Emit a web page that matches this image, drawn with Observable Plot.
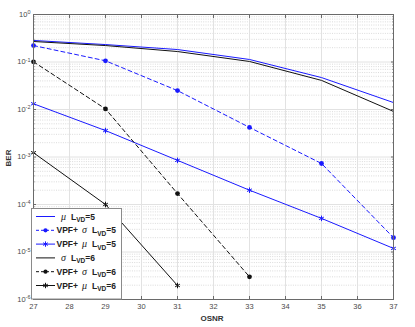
<!DOCTYPE html>
<html><head><meta charset="utf-8">
<script src="https://cdn.jsdelivr.net/npm/d3@7"></script>
<script src="https://cdn.jsdelivr.net/npm/@observablehq/plot@0.6"></script>
<style>
body{margin:0;background:#fff;}
#chart svg{font-family:"Liberation Sans",Arial,sans-serif;}
</style>
</head><body><div id="chart"></div>
<script>
// ---- data ----
const osnr = [27, 29, 31, 33, 35, 37];
const osnrSigmaL6 = [27, 29, 31, 33];
const osnrMuL6 = [27, 29, 31];
const muL5 = [0.284, 0.233, 0.183, 0.113, 0.047, 0.014];
const vpfSigmaL5 = [0.222, 0.106, 0.025, 0.0042, 7.3e-4, 2.0e-5];
const vpfMuL5 = [0.0132, 0.0036, 8.5e-4, 2.0e-4, 5.1e-5, 1.19e-5];
const sigmaL6 = [0.27, 0.222, 0.166, 0.1026, 0.041, 0.0091];
const vpfSigmaL6 = [0.101, 0.0103, 1.7e-4, 3.0e-6];
const vpfMuL6 = [1.23e-3, 1.0e-4, 1.97e-6];
const xTicks = [27, 28, 29, 30, 31, 32, 33, 34, 35, 36, 37];
const yTicks = [1e-6, 1e-5, 1e-4, 1e-3, 1e-2, 1e-1, 1];
const yTickExp = ["-6", "-5", "-4", "-3", "-2", "-1", "0"];

const BLUE = "#1a1aff", BLACK = "#111";

const rows = (name, xs, ys) => xs.map((x, i) => ({series: name, osnr: x, ber: ys[i]}));
const dMuL5 = rows("muL5", osnr, muL5);
const dVpfSigmaL5 = rows("vpfSigmaL5", osnr, vpfSigmaL5);
const dVpfMuL5 = rows("vpfMuL5", osnr, vpfMuL5);
const dSigmaL6 = rows("sigmaL6", osnr, sigmaL6);
const dVpfSigmaL6 = rows("vpfSigmaL6", osnrSigmaL6, vpfSigmaL6);
const dVpfMuL6 = rows("vpfMuL6", osnrMuL6, vpfMuL6);

const minorY = d3.scaleLog().domain([1e-6, 1]).ticks().filter(v => !yTicks.some(t => Math.abs(t - v) / v < 1e-9));
const expOf = d => yTickExp[yTicks.findIndex(t => Math.abs(t - d) / t < 1e-9)];

const AX = "#6a6a6a", LBL = "#4a4a4a";

const chart = Plot.plot({
  width: 415, height: 327,
  marginLeft: 33, marginRight: 22, marginTop: 14, marginBottom: 28,
  style: {fontSize: "7.5px", color: LBL, background: "#fff"},
  x: {domain: [27, 37], ticks: xTicks},
  y: {type: "log", domain: [1e-6, 1], ticks: yTicks},
  marks: [
    Plot.ruleY(minorY, {stroke: "#d2d2d2", strokeDasharray: "1,1.3", strokeWidth: 0.8}),
    Plot.gridX(xTicks, {stroke: "#e2e2e2", strokeOpacity: 1}),
    Plot.gridY(yTicks, {stroke: "#e2e2e2", strokeOpacity: 1}),
    Plot.line(dMuL5, {x: "osnr", y: "ber", stroke: BLUE, strokeWidth: 1}),
    Plot.line(dVpfSigmaL5, {x: "osnr", y: "ber", stroke: BLUE, strokeWidth: 1, strokeDasharray: "4,3"}),
    Plot.dot(dVpfSigmaL5, {x: "osnr", y: "ber", fill: BLUE, r: 2.4}),
    Plot.line(dVpfMuL5, {x: "osnr", y: "ber", stroke: BLUE, strokeWidth: 1}),
    Plot.dot(dVpfMuL5, {x: "osnr", y: "ber", stroke: BLUE, symbol: "asterisk", r: 2.6, strokeWidth: 1}),
    Plot.line(dSigmaL6, {x: "osnr", y: "ber", stroke: BLACK, strokeWidth: 1}),
    Plot.line(dVpfSigmaL6, {x: "osnr", y: "ber", stroke: BLACK, strokeWidth: 1, strokeDasharray: "4,3"}),
    Plot.dot(dVpfSigmaL6, {x: "osnr", y: "ber", fill: BLACK, r: 2.4}),
    Plot.line(dVpfMuL6, {x: "osnr", y: "ber", stroke: BLACK, strokeWidth: 1}),
    Plot.dot(dVpfMuL6, {x: "osnr", y: "ber", stroke: BLACK, symbol: "asterisk", r: 2.6, strokeWidth: 1}),
    Plot.frame({stroke: AX}),
    // inward ticks on all four sides
    Plot.axisX(xTicks, {anchor: "bottom", tickSize: -3, stroke: AX, tickFormat: () => "", label: null}),
    Plot.axisX(xTicks, {anchor: "top", tickSize: -3, stroke: AX, tickFormat: () => "", label: null}),
    Plot.axisY(yTicks, {anchor: "left", tickSize: -3, stroke: AX, tickFormat: () => "", label: null}),
    Plot.axisY(yTicks, {anchor: "right", tickSize: -3, stroke: AX, tickFormat: () => "", label: null}),
    Plot.axisY(minorY, {anchor: "left", tickSize: -1.5, stroke: AX, tickFormat: () => "", label: null}),
    Plot.axisY(minorY, {anchor: "right", tickSize: -1.5, stroke: AX, tickFormat: () => "", label: null}),
    // tick labels
    Plot.axisX(xTicks, {anchor: "bottom", tickSize: 0, tickPadding: 4, tickFormat: d => String(d), fill: LBL, label: null}),
    Plot.axisY(yTicks, {anchor: "left", tickSize: 0, tickPadding: 3, tickFormat: d => "10|" + expOf(d), fill: LBL, label: null, className: "ylab"})
  ]
});

const svg = d3.select(chart);
// superscripts on the log labels
svg.selectAll(".ylab text").each(function() {
  const t = d3.select(this);
  const [base, exp] = t.text().split("|");
  t.text(null);
  t.append("tspan").text(base);
  t.append("tspan").attr("dy", "-0.45em").attr("font-size", "5.5px").text(exp);
});

// axis titles
svg.append("text").attr("x", 212).attr("y", 321).attr("text-anchor", "middle")
  .attr("font-size", "8px").attr("font-weight", "bold").attr("fill", "#333").text("OSNR");
svg.append("text").attr("transform", "translate(11,158) rotate(-90)").attr("text-anchor", "middle")
  .attr("font-size", "8px").attr("font-weight", "bold").attr("fill", "#333").text("BER");

// legend
const legendItems = [
  {pre: "", greek: "μ", l: "5", color: BLUE, dash: null, marker: null},
  {pre: "VPF+", greek: "σ", l: "5", color: BLUE, dash: "3,2", marker: "dot"},
  {pre: "VPF+", greek: "μ", l: "5", color: BLUE, dash: null, marker: "star"},
  {pre: "", greek: "σ", l: "6", color: BLACK, dash: null, marker: null},
  {pre: "VPF+", greek: "σ", l: "6", color: BLACK, dash: "3,2", marker: "dot"},
  {pre: "VPF+", greek: "μ", l: "6", color: BLACK, dash: null, marker: "star"}
];
const lg = svg.append("g").attr("text-anchor", "start");
lg.append("rect").attr("x", 31.5).attr("y", 208.5).attr("width", 90).attr("height", 90.5)
  .attr("fill", "#fff").attr("stroke", "#8a8a8a").attr("stroke-width", 1);
legendItems.forEach((it, i) => {
  const y = 216.5 + i * 13.8;
  const g = lg.append("g").attr("transform", `translate(0,${y})`);
  g.append("line").attr("x1", 36).attr("x2", 55).attr("y1", 0).attr("y2", 0)
    .attr("stroke", it.color).attr("stroke-width", 1).attr("stroke-dasharray", it.dash);
  if (it.marker === "dot") g.append("circle").attr("cx", 45.5).attr("cy", 0).attr("r", 2.1).attr("fill", it.color);
  if (it.marker === "star") g.append("path").attr("transform", "translate(45.5,0)")
    .attr("d", d3.symbol(d3.symbolAsterisk, 20)()).attr("stroke", it.color).attr("fill", "none");
  const t = g.append("text").attr("y", 3).attr("font-size", "8.5px").attr("font-weight", "bold").attr("fill", "#222");
  const x0 = it.pre ? 56.5 : 61;
  t.attr("x", x0);
  if (it.pre) t.append("tspan").text(it.pre);
  t.append("tspan").attr("dx", it.pre ? 4 : 0).attr("font-family", "'Liberation Serif',serif").attr("font-style", "italic").attr("font-weight", "normal").attr("font-size", "10px").text(it.greek);
  t.append("tspan").attr("dx", 5).text("L");
  t.append("tspan").attr("dy", 2.5).attr("font-size", "6.5px").text("VD");
  t.append("tspan").attr("dy", -2.5).text("=" + it.l);
});

document.getElementById("chart").appendChild(chart);
</script>
</body></html>
